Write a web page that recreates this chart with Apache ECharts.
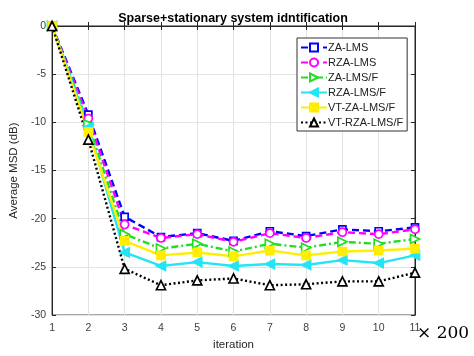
<!DOCTYPE html>
<html><head><meta charset="utf-8">
<script src="https://cdn.jsdelivr.net/npm/echarts@6/dist/echarts.min.js"></script>
<style>html,body{margin:0;padding:0;background:#fff}#c{width:474px;height:356px}</style>
</head><body><div id="c"></div>
<script>
const iterations = [1,2,3,4,5,6,7,8,9,10,11];
const zaLms     = [0,-9.2,-19.8,-21.9,-21.5,-22.3,-21.3,-21.8,-21.1,-21.3,-20.9];
const rzaLms    = [0,-9.6,-20.6,-22.0,-21.6,-22.4,-21.5,-22.0,-21.4,-21.6,-21.1];
const zaLmsF    = [0,-10.2,-21.6,-23.1,-22.6,-23.4,-22.6,-23.0,-22.4,-22.6,-22.1];
const rzaLmsF   = [0,-10.5,-23.5,-24.9,-24.5,-24.9,-24.7,-24.8,-24.3,-24.6,-23.8];
const vtZaLmsF  = [0,-11.0,-22.3,-23.8,-23.5,-23.9,-23.3,-23.8,-23.4,-23.3,-23.1];
const vtRzaLmsF = [0,-11.8,-25.2,-26.9,-26.4,-26.2,-26.9,-26.8,-26.5,-26.5,-25.6];
const yTicks = [0,-5,-10,-15,-20,-25,-30];

const pair = arr => arr.map((v,i)=>[iterations[i], v]);
const triR = 'path://M0,0 L10,5 L0,10 Z';
const triL = 'path://M10,0 L0,5 L10,10 Z';

function s(name, data, color, type, symbol, hollow, size) {
  return {
    name, type:'line', data: pair(data), symbol, symbolSize: size||8,
    lineStyle:{color, width:2.4, type},
    itemStyle:{color: hollow ? '#fff' : color, borderColor: color, borderWidth: 1.7},
    z: 2
  };
}

const chart = echarts.init(document.getElementById('c'));
const axisCommon = {
  axisLine:{show:true, lineStyle:{color:'#262626', width:1}},
  axisTick:{show:true, inside:true, length:4, lineStyle:{color:'#262626'}},
};
chart.setOption({
  animation:false,
  textStyle:{fontFamily:'Liberation Sans, Arial, sans-serif'},
  title:{text:'Sparse+stationary system idntification', left:228, textAlign:'center', top:7,
    textStyle:{fontSize:12.5, fontWeight:'bold', color:'#000', fontFamily:'Liberation Sans, Arial, sans-serif'}},
  grid:{left:41, right:59, top:26, bottom:33, show:true, borderColor:'#262626', borderWidth:1},
  legend:{
    orient:'vertical', left:297, top:38, width:107,
    backgroundColor:'#fff', borderColor:'#333', borderWidth:1, borderRadius:0,
    padding:[4,4,3,3], itemGap:4, itemWidth:26, itemHeight:10,
    textStyle:{fontSize:11, color:'#222', padding:[0,0,0,-4]}
  },
  xAxis:[{
    type:'value', min:1, max:11, interval:1, ...axisCommon,
    splitLine:{show:true, lineStyle:{color:'#e3e3e3', width:1}},
    axisLabel:{fontSize:10.5, color:'#404040', margin:8},
    name:'iteration', nameLocation:'middle', nameGap:21,
    nameTextStyle:{fontSize:11.5, color:'#262626'}
  },{
    type:'value', position:'top', min:1, max:11, interval:1, ...axisCommon,
    axisLabel:{show:false}, splitLine:{show:false}
  }],
  yAxis:[{
    type:'value', min:-30, max:0, interval:5, ...axisCommon,
    splitLine:{show:true, lineStyle:{color:'#e3e3e3', width:1}},
    axisLabel:{fontSize:10.5, color:'#404040', margin:6, formatter:v=>yTicks.includes(v)?String(v):''},
    name:'Average MSD (dB)', nameLocation:'middle', nameGap:28,
    nameTextStyle:{fontSize:11.5, color:'#262626'}
  },{
    type:'value', position:'right', min:-30, max:0, interval:5, ...axisCommon,
    axisLabel:{show:false}, splitLine:{show:false}
  }],
  graphic:[{type:'text', left:417, top:325,
    style:{text:'× 200', fontSize:17, fill:'#000', fontFamily:'DejaVu Serif, serif'}}],
  series:[
    s('ZA-LMS', zaLms, '#0000ff', [7,4], 'rect', true, 7),
    s('RZA-LMS', rzaLms, '#ff00ff', [7,4], 'circle', true, 8),
    s('ZA-LMS/F', zaLmsF, '#22dd22', [7,3,2,3], triR, true, 9),
    s('RZA-LMS/F', rzaLmsF, '#22e5f5', 'solid', triL, false, 9),
    s('VT-ZA-LMS/F', vtZaLmsF, '#ffee00', 'solid', 'rect', false, 8),
    s('VT-RZA-LMS/F', vtRzaLmsF, '#000000', [2,2.5], 'triangle', true, 9)
  ]
});
</script></body></html>
